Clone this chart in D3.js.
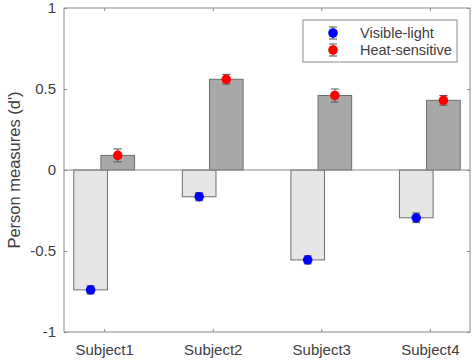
<!DOCTYPE html>
<html>
<head>
<meta charset="utf-8">
<script src="https://cdn.jsdelivr.net/npm/d3@7"></script>
<style>
  body { margin: 0; background: #fff; }
  svg { font-family: "Liberation Sans", Arial, sans-serif; }
</style>
</head>
<body>
<div id="chart"></div>
<script>
const subjects = ['Subject1', 'Subject2', 'Subject3', 'Subject4'];
const visible = [-0.74, -0.165, -0.555, -0.295];
const visibleErr = [0.025, 0.025, 0.025, 0.03];
const heat = [0.09, 0.56, 0.46, 0.43];
const heatErr = [0.04, 0.03, 0.04, 0.03];
const yTicks = [-1, -0.5, 0, 0.5, 1];
const yTickLabels = ['-1', '-0.5', '0', '0.5', '1'];

const width = 474;
const height = 362;
const margin = {top: 8, right: 4, bottom: 30, left: 64};

const svg = d3.select('#chart')
  .append('svg')
  .attr('width', width)
  .attr('height', height);

// x in subject index units, like MATLAB's bar positions
const xscale = d3.scaleLinear().domain([0.63, 4.37]).range([margin.left, width - margin.right]);
const yscale = d3.scaleLinear().domain([-1, 1]).range([height - margin.bottom, margin.top]);

const barW = xscale(0.31) - xscale(0);
const offset = xscale(0.125) - xscale(0);
const axisColor = '#8a8a8a';
const textColor = '#404040';

// Bars: visible-light (light) on left, heat-sensitive (dark) on right
svg.selectAll('.bar-vis')
  .data(visible)
  .enter()
  .append('rect')
  .attr('class', 'bar-vis')
  .attr('x', (d, i) => xscale(i + 1) - offset - barW / 2)
  .attr('y', d => yscale(Math.max(0, d)))
  .attr('width', barW)
  .attr('height', d => Math.abs(yscale(d) - yscale(0)))
  .attr('fill', '#e6e6e6')
  .attr('stroke', '#6e6e6e')
  .attr('stroke-width', 1);

svg.selectAll('.bar-heat')
  .data(heat)
  .enter()
  .append('rect')
  .attr('class', 'bar-heat')
  .attr('x', (d, i) => xscale(i + 1) + offset - barW / 2)
  .attr('y', d => yscale(Math.max(0, d)))
  .attr('width', barW)
  .attr('height', d => Math.abs(yscale(d) - yscale(0)))
  .attr('fill', '#a8a8a8')
  .attr('stroke', '#6e6e6e')
  .attr('stroke-width', 1);

// Zero line
svg.append('line')
  .attr('x1', xscale.range()[0]).attr('x2', xscale.range()[1])
  .attr('y1', yscale(0)).attr('y2', yscale(0))
  .attr('stroke', axisColor);

// Axis box
svg.append('rect')
  .attr('x', xscale.range()[0])
  .attr('y', yscale(1))
  .attr('width', xscale.range()[1] - xscale.range()[0])
  .attr('height', yscale(-1) - yscale(1))
  .attr('fill', 'none')
  .attr('stroke', axisColor);

const xaxis = d3.axisBottom(xscale).tickValues([1, 2, 3, 4]).tickFormat((d, i) => subjects[i]).tickSizeInner(-3).tickSizeOuter(0).tickPadding(12);
const xaxisTop = d3.axisTop(xscale).tickValues([1, 2, 3, 4]).tickFormat('').tickSizeInner(-3).tickSizeOuter(0);
const yaxis = d3.axisLeft(yscale).tickValues(yTicks).tickFormat((d, i) => yTickLabels[i]).tickSizeInner(-3).tickSizeOuter(0).tickPadding(8);
const yaxisRight = d3.axisRight(yscale).tickValues(yTicks).tickFormat('').tickSizeInner(-3).tickSizeOuter(0);

function styleAxis(g) {
  g.select('.domain').remove();
  g.selectAll('line').attr('stroke', axisColor);
  g.selectAll('text').attr('fill', textColor).style('font-size', '15px');
}

svg.append('g').attr('transform', 'translate(0,' + yscale(-1) + ')').call(xaxis).call(styleAxis);
svg.append('g').attr('transform', 'translate(0,' + yscale(1) + ')').call(xaxisTop).call(styleAxis);
svg.append('g').attr('transform', 'translate(' + xscale.range()[0] + ',0)').call(yaxis).call(styleAxis);
svg.append('g').attr('transform', 'translate(' + xscale.range()[1] + ',0)').call(yaxisRight).call(styleAxis);

// Y label
svg.append('text')
  .attr('transform', 'translate(20,' + yscale(0) + ') rotate(-90)')
  .attr('text-anchor', 'middle')
  .attr('fill', textColor)
  .style('font-size', '16.5px')
  .text("Person measures (d')");

// Error bars + points
function drawPoints(values, errs, dx, color, cls) {
  const g = svg.selectAll('.' + cls)
    .data(values)
    .enter()
    .append('g')
    .attr('class', cls)
    .attr('transform', (d, i) => 'translate(' + (xscale(i + 1) + dx) + ',0)');
  g.append('line')
    .attr('y1', (d, i) => yscale(d - errs[i]))
    .attr('y2', (d, i) => yscale(d + errs[i]))
    .attr('stroke', '#555');
  g.append('line').attr('x1', -4).attr('x2', 4)
    .attr('y1', (d, i) => yscale(d - errs[i])).attr('y2', (d, i) => yscale(d - errs[i]))
    .attr('stroke', '#555');
  g.append('line').attr('x1', -4).attr('x2', 4)
    .attr('y1', (d, i) => yscale(d + errs[i])).attr('y2', (d, i) => yscale(d + errs[i]))
    .attr('stroke', '#555');
  g.append('circle')
    .attr('cy', d => yscale(d))
    .attr('r', 4.8)
    .attr('fill', color);
}
drawPoints(visible, visibleErr, -offset, '#0000ff', 'pt-vis');
drawPoints(heat, heatErr, offset, '#ff0000', 'pt-heat');

// Legend
const legend = svg.append('g').attr('transform', 'translate(303,20)');
legend.append('rect')
  .attr('width', 154).attr('height', 42)
  .attr('fill', '#fff').attr('stroke', axisColor);
const items = [{label: 'Visible-light', color: '#0000ff'}, {label: 'Heat-sensitive', color: '#ff0000'}];
items.forEach((it, i) => {
  const y = 13 + i * 17;
  legend.append('line').attr('x1', 30).attr('x2', 30).attr('y1', y - 6).attr('y2', y + 6).attr('stroke', '#555');
  legend.append('line').attr('x1', 26).attr('x2', 34).attr('y1', y - 6).attr('y2', y - 6).attr('stroke', '#555');
  legend.append('line').attr('x1', 26).attr('x2', 34).attr('y1', y + 6).attr('y2', y + 6).attr('stroke', '#555');
  legend.append('circle').attr('cx', 30).attr('cy', y).attr('r', 4.8).attr('fill', it.color);
  legend.append('text')
    .attr('x', 57).attr('y', y + 5)
    .attr('fill', textColor)
    .style('font-size', '14.5px')
    .text(it.label);
});
</script>
</body>
</html>
